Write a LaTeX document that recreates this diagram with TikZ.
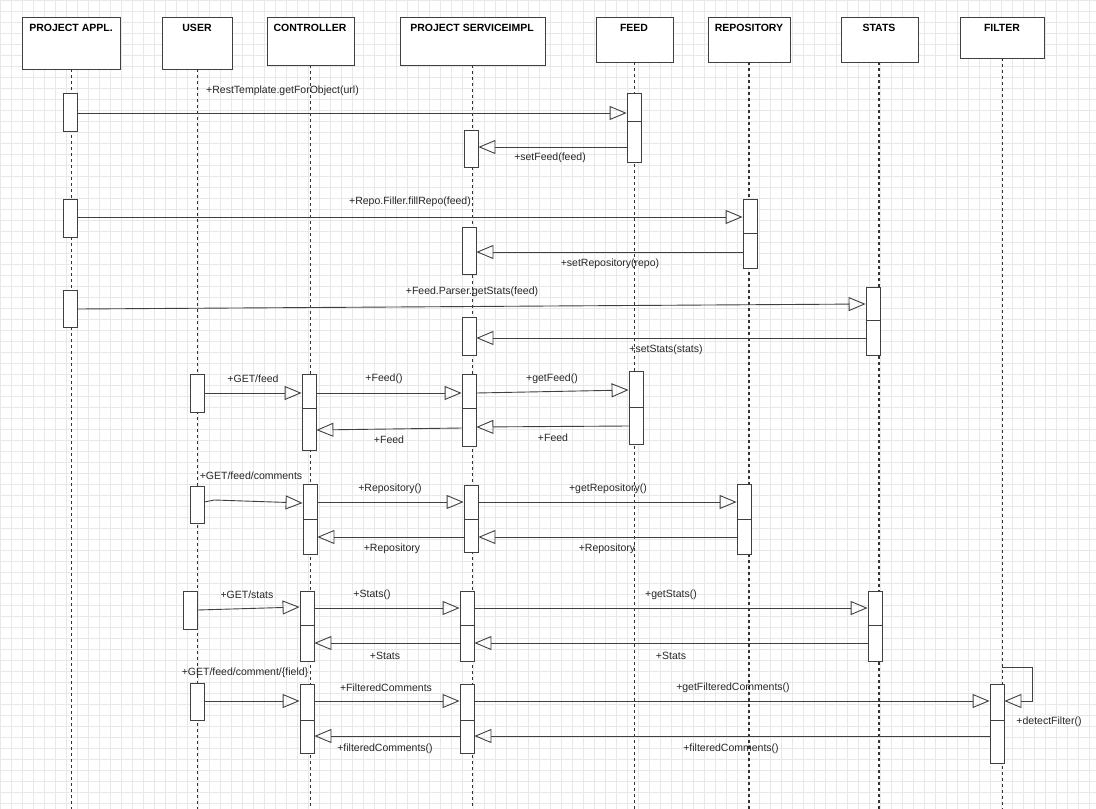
\documentclass[tikz,border=0pt]{standalone}
\usepackage{fontspec}
\setmainfont{Liberation Sans}
\usetikzlibrary{arrows.meta}
\begin{document}
\begin{tikzpicture}[x=1pt,y=-1pt,
  hdr/.style={draw=black!75,line width=1pt,fill=white,anchor=north west,inner sep=0pt},
  act/.style={draw=black!75,line width=0.8pt,fill=white,minimum width=14pt,inner sep=0pt},
  life/.style={dashed,black!80,line width=0.7pt},
  msg/.style={black!75,line width=0.9pt,-{Triangle[open,length=17pt,width=14pt]}},
  lbl/.style={font=\fontsize{10.5}{12}\selectfont,text=black!85,inner sep=1pt}]
\useasboundingbox (0,0) rectangle (1096,809);
\fill[white] (0,0) rectangle (1096,809);
\foreach \i in {0,11,...,1100} {\draw[black!9,line width=0.5pt] (\i,0) -- (\i,809);}
\foreach \i in {0,11,...,810} {\draw[black!9,line width=0.5pt] (0,\i) -- (1096,\i);}
% headers
\newcommand{\hdrbox}[6]{\node[hdr,minimum width=#3pt,minimum height=#4pt] (#1) at (#2,17) {};
  \node[font=\bfseries\fontsize{10.5}{12}\selectfont] at (#5,28) {#6};}
\hdrbox{hA}{22}{98}{52}{71}{PROJECT APPL.}
\hdrbox{hU}{162}{70}{52}{197}{USER}
\hdrbox{hC}{267}{87}{48}{310}{CONTROLLER}
\hdrbox{hS}{400}{145}{48}{472}{PROJECT SERVICEIMPL}
\hdrbox{hF}{596}{77}{45}{634}{FEED}
\hdrbox{hR}{708}{82}{45}{749}{REPOSITORY}
\hdrbox{hT}{841}{77}{45}{879}{STATS}
\hdrbox{hL}{960}{84}{41}{1002}{FILTER}
% lifelines
\draw[life] (71,69) -- (71,809);
\draw[life] (197,69) -- (197,809);
\draw[life] (310,65) -- (310,809);
\draw[life,line width=1pt] (472,65) -- (472,809);
\draw[life] (634,62) -- (634,809);
\draw[life,line width=1.3pt] (749,62) -- (749,809);
\draw[life,line width=1.6pt] (879,62) -- (879,809);
\draw[life] (1002,58) -- (1002,809);
\newcommand{\actb}[5]{\node[act,minimum height={#4-#3}] (#1) at (#2,{(#3+#4)/2}) {};
  \ifx&#5&\else\draw[black!75,line width=0.8pt] (#1.west |- 0,#5) -- (#1.east |- 0,#5);\fi}
% 1
\actb{a1}{70}{93}{131}{}
\actb{f1}{634}{93}{162}{121}
\actb{s1}{471}{130}{167}{}
\draw[msg] (a1.east |- 0,113) -- (f1.west |- 0,113);
\node[lbl,anchor=west] at (205,91) {+RestTemplate.getForObject(url)};
\draw[msg] (f1.west |- 0,147) -- (s1.east |- 0,147);
\node[lbl] at (550,158) {+setFeed(feed)};
% 2
\actb{a2}{70}{199}{237}{}
\actb{r2}{750}{199}{268}{233}
\actb{s2}{469}{227}{274}{}
\draw[msg] (a2.east |- 0,217) -- (r2.west |- 0,217);
\node[lbl] at (410,202) {+Repo.Filler.fillRepo(feed)};
\draw[msg] (r2.west |- 0,252) -- (s2.east |- 0,252);
\node[lbl] at (610,264) {+setRepository(repo)};
% 3
\actb{a3}{70}{290}{327}{}
\actb{t3}{873}{287}{355}{320}
\actb{s3}{469}{317}{355}{}
\draw[msg] (a3.east |- 0,309) -- (t3.west |- 0,304);
\node[lbl] at (472,292) {+Feed.Parser.getStats(feed)};
\draw[msg] (t3.west |- 0,338) -- (s3.east |- 0,338);
\node[lbl] at (666,350) {+setStats(stats)};
% 4
\actb{u4}{197}{374}{412}{}
\actb{c4}{309}{374}{450}{408}
\actb{s4}{469}{374}{446}{408}
\actb{f4}{636}{371}{444}{407}
\draw[msg] (u4.east |- 0,393) -- (c4.west |- 0,393);
\node[lbl] at (253,379) {+GET/feed};
\draw[msg] (c4.east |- 0,393) -- (s4.west |- 0,393);
\node[lbl] at (384,379) {+Feed()};
\draw[msg] (s4.east |- 0,393) -- (f4.west |- 0,390);
\node[lbl] at (552,379) {+getFeed()};
\draw[msg] (f4.west |- 0,426) -- (s4.east |- 0,427);
\node[lbl] at (553,438) {+Feed};
\draw[msg] (s4.west |- 0,428) -- (c4.east |- 0,430);
\node[lbl] at (389,440) {+Feed};
% 5
\actb{u5}{197}{486}{523}{}
\actb{c5}{310}{484}{554}{519}
\actb{s5}{471}{485}{552}{519}
\actb{r5}{744}{484}{554}{519}
\draw[msg] (u5.east |- 0,502) -- ([xshift=10pt]u5.east |- 0,500) -- (c5.west |- 0,503);
\node[lbl] at (251,476) {+GET/feed/comments};
\draw[msg] (c5.east |- 0,502) -- (s5.west |- 0,502);
\node[lbl] at (390,489) {+Repository()};
\draw[msg] (s5.east |- 0,502) -- (r5.west |- 0,502);
\node[lbl] at (608,489) {+getRepository()};
\draw[msg] (r5.west |- 0,537) -- (s5.east |- 0,537);
\node[lbl] at (607,549) {+Repository};
\draw[msg] (s5.west |- 0,537) -- (c5.east |- 0,537);
\node[lbl] at (392,549) {+Repository};
% 6
\actb{u6}{190}{591}{629}{}
\actb{c6}{307}{591}{661}{625}
\actb{s6}{467}{591}{661}{625}
\actb{t6}{875}{591}{661}{625}
\draw[msg] (u6.east |- 0,610) -- (c6.west |- 0,607);
\node[lbl] at (247,595) {+GET/stats};
\draw[msg] (c6.east |- 0,608) -- (s6.west |- 0,608);
\node[lbl] at (372,595) {+Stats()};
\draw[msg] (s6.east |- 0,608) -- (t6.west |- 0,608);
\node[lbl] at (671,595) {+getStats()};
\draw[msg] (t6.west |- 0,643) -- (s6.east |- 0,643);
\node[lbl] at (671,656) {+Stats};
\draw[msg] (s6.west |- 0,643) -- (c6.east |- 0,643);
\node[lbl] at (385,656) {+Stats};
% 7
\actb{u7}{197}{683}{720}{}
\actb{c7}{307}{684}{753}{720}
\actb{s7}{467}{684}{753}{720}
\actb{l7}{997}{684}{763}{720}
\coordinate (lp1) at (1002,667);
\coordinate (lp2) at (1032,667);
\coordinate (lp3) at (1032,701);
\draw[msg] (u7.east |- 0,701) -- (c7.west |- 0,701);
\node[lbl] at (245,673) {+GET/feed/comment/\{field\}};
\draw[msg] (c7.east |- 0,701) -- (s7.west |- 0,701);
\node[lbl] at (386,688) {+FilteredComments};
\draw[msg] (s7.east |- 0,701) -- (l7.west |- 0,701);
\node[lbl] at (733,688) {+getFilteredComments()};
\draw[msg] (lp1) -- (lp2) -- (lp3) -- (l7.east |- lp3);
\node[lbl] at (1049,722) {+detectFilter()};
\draw[msg] (l7.west |- 0,736) -- (s7.east |- 0,736);
\node[lbl] at (731,749) {+filteredComments()};
\draw[msg] (s7.west |- 0,736) -- (c7.east |- 0,736);
\node[lbl] at (385,749) {+filteredComments()};
\end{tikzpicture}
\end{document}
